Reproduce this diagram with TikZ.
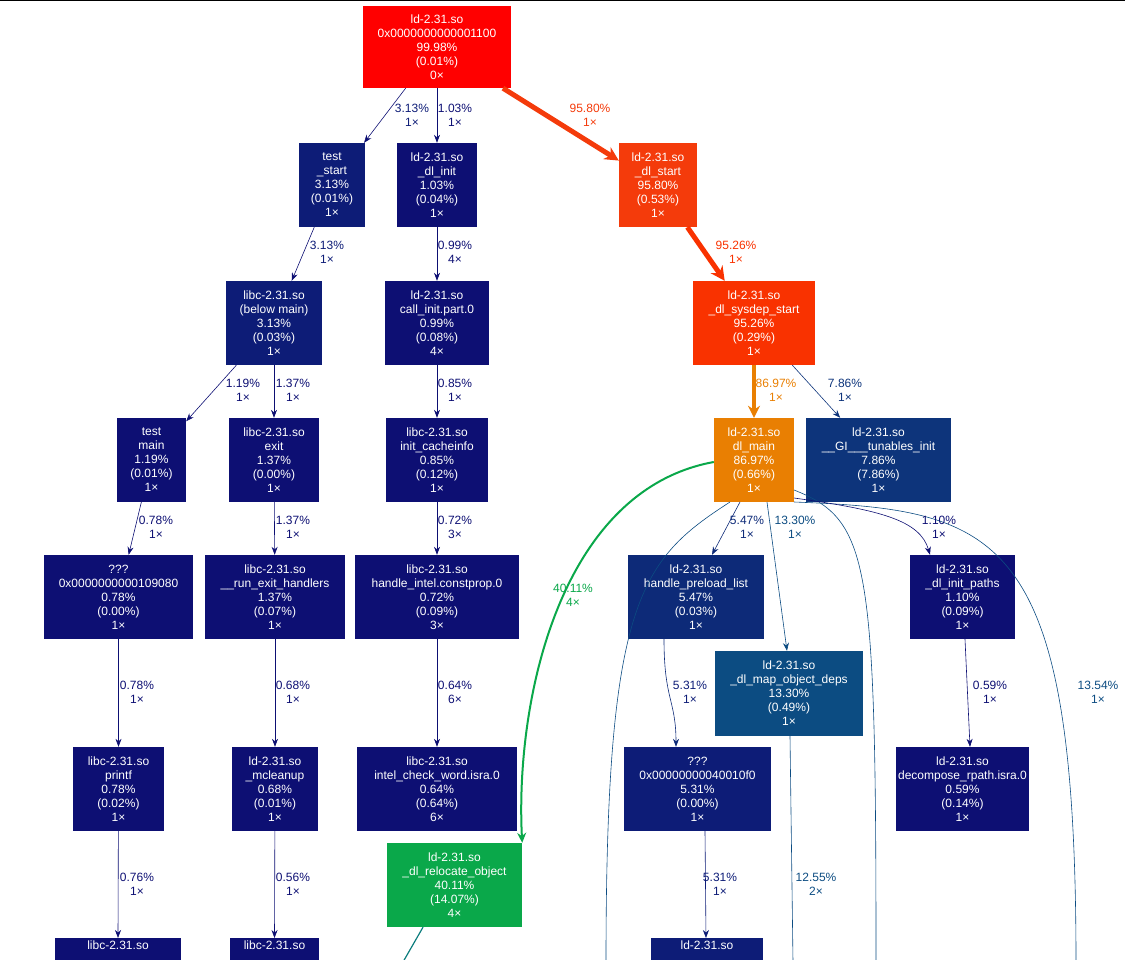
\documentclass[tikz,border=0pt]{standalone}
\usepackage{fontspec}
\setmainfont{Liberation Sans}
\usetikzlibrary{arrows.meta}
\definecolor{cRed}{HTML}{FF0000}
\definecolor{cStart}{HTML}{F43B0B}
\definecolor{cSys}{HTML}{F93200}
\definecolor{cOr}{HTML}{E97F02}
\definecolor{cDb}{HTML}{0D0F73}
\definecolor{cDb2}{HTML}{0D1C77}
\definecolor{cTun}{HTML}{0D347B}
\definecolor{cPre}{HTML}{0D2A78}
\definecolor{cMap}{HTML}{0C4C82}
\definecolor{cGr}{HTML}{0AA84A}
\definecolor{cTeal}{HTML}{0C7D7D}
\begin{document}
\begin{tikzpicture}[x=1pt,y=-1pt,
  box/.style={rectangle,inner sep=0pt,text=white,align=center,font=\fontsize{12}{14}\selectfont},
  lab/.style={align=center,font=\fontsize{12}{14}\selectfont,inner sep=0pt},
  e/.style={draw=cDb,-{Stealth[length=8pt,width=6pt]},line width=0.6pt},
  em/.style={draw=cMap,-{Stealth[length=8pt,width=6pt]},line width=0.6pt},
  eo/.style={draw=cMap,line width=0.6pt}]
\useasboundingbox (0,0) rectangle (1125,960);
\draw[line width=0.8pt] (0,0.5) -- (1125,0.5);
\newcommand\NB[7]{\node[box,fill=#6,minimum width={(#4-#2)*1pt},minimum height={(#5-#3)*1pt}] (#1) at ({(#2+#4)/2},{(#3+#5)/2}) {#7};}
\NB{root}{363}{6}{511}{88}{cRed}{ld-2.31.so\\0x0000000000001100\\99.98\%\\(0.01\%)\\0×}
\NB{tstart}{299}{143}{365}{227}{cDb2}{test\\\_start\\3.13\%\\(0.01\%)\\1×}
\NB{dlinit}{397}{143}{477}{227}{cDb}{ld-2.31.so\\\_dl\_init\\1.03\%\\(0.04\%)\\1×}
\NB{dlstart}{619}{143}{697}{227}{cStart}{ld-2.31.so\\\_dl\_start\\95.80\%\\(0.53\%)\\1×}
\NB{below}{226}{281}{322}{365}{cDb2}{libc-2.31.so\\(below main)\\3.13\%\\(0.03\%)\\1×}
\NB{callinit}{385}{281}{489}{365}{cDb}{ld-2.31.so\\call\_init.part.0\\0.99\%\\(0.08\%)\\4×}
\NB{sysdep}{693}{281}{815}{365}{cSys}{ld-2.31.so\\\_dl\_sysdep\_start\\95.26\%\\(0.29\%)\\1×}
\NB{tmain}{117}{418}{186}{502}{cDb}{test\\main\\1.19\%\\(0.01\%)\\1×}
\NB{exit}{229}{418}{319}{502}{cDb}{libc-2.31.so\\exit\\1.37\%\\(0.00\%)\\1×}
\NB{cache}{386}{418}{488}{502}{cDb}{libc-2.31.so\\init\_cacheinfo\\0.85\%\\(0.12\%)\\1×}
\NB{dlmain}{714}{418}{794}{502}{cOr}{ld-2.31.so\\dl\_main\\86.97\%\\(0.66\%)\\1×}
\NB{tun}{806}{418}{951}{502}{cTun}{ld-2.31.so\\\_\_GI\_\_\_tunables\_init\\7.86\%\\(7.86\%)\\1×}
\NB{q1}{44}{555}{193}{639}{cDb}{???\\0x0000000000109080\\0.78\%\\(0.00\%)\\1×}
\NB{reh}{205}{555}{345}{639}{cDb}{libc-2.31.so\\\_\_run\_exit\_handlers\\1.37\%\\(0.07\%)\\1×}
\NB{hi}{355}{555}{519}{639}{cDb}{libc-2.31.so\\handle\_intel.constprop.0\\0.72\%\\(0.09\%)\\3×}
\NB{hpl}{628}{555}{764}{639}{cPre}{ld-2.31.so\\handle\_preload\_list\\5.47\%\\(0.03\%)\\1×}
\NB{dip}{910}{555}{1015}{639}{cDb}{ld-2.31.so\\\_dl\_init\_paths\\1.10\%\\(0.09\%)\\1×}
\NB{mod}{715}{651}{863}{736}{cMap}{ld-2.31.so\\\_dl\_map\_object\_deps\\13.30\%\\(0.49\%)\\1×}
\NB{printf}{73}{747}{164}{831}{cDb}{libc-2.31.so\\printf\\0.78\%\\(0.02\%)\\1×}
\NB{mcl}{232}{747}{318}{831}{cDb}{ld-2.31.so\\\_mcleanup\\0.68\%\\(0.01\%)\\1×}
\NB{icw}{357}{747}{517}{831}{cDb}{libc-2.31.so\\intel\_check\_word.isra.0\\0.64\%\\(0.64\%)\\6×}
\NB{q2}{624}{747}{771}{831}{cDb2}{???\\0x00000000040010f0\\5.31\%\\(0.00\%)\\1×}
\NB{dcr}{896}{747}{1029}{831}{cDb}{ld-2.31.so\\decompose\_rpath.isra.0\\0.59\%\\(0.14\%)\\1×}
\NB{rel}{387}{843}{522}{927}{cGr}{ld-2.31.so\\\_dl\_relocate\_object\\40.11\%\\(14.07\%)\\4×}
\node[box,fill=cDb,minimum width=126pt,minimum height=44pt,anchor=north,text depth=30pt] (b1) at (118,938) {libc-2.31.so};
\node[box,fill=cDb,minimum width=89pt,minimum height=44pt,anchor=north,text depth=30pt] (b2) at (274.5,938) {libc-2.31.so};
\node[box,fill=cDb2,minimum width=112pt,minimum height=44pt,anchor=north,text depth=30pt] (b3) at (707,938) {ld-2.31.so};
\coordinate (o1) at (403,962);
\coordinate (o2) at (606,962);
\coordinate (o3) at (876,962);
\coordinate (o4) at (1076,962);
\coordinate (o5) at (793,962);
% edges
\draw[e] (root) -- (tstart);
\draw[e] (root.south-|dlinit) -- (dlinit);
\draw[draw=cStart,line width=5pt,-{Stealth[length=14pt,width=14pt]}] (root) -- (dlstart);
\draw[e] (tstart) -- (below);
\draw[e] (dlinit) -- (callinit);
\draw[draw=cSys,line width=5pt,-{Stealth[length=14pt,width=14pt]}] (dlstart) -- (sysdep);
\draw[e] (below) -- (tmain);
\draw[e] (below.south-|exit) -- (exit);
\draw[e] (callinit) -- (cache);
\draw[draw=cOr,line width=4pt,-{Stealth[length=12pt,width=12pt]}] (sysdep.south-|dlmain) -- (dlmain);
\draw[draw=cTun,-{Stealth[length=8pt,width=6pt]},line width=0.6pt] (sysdep) -- (tun);
\draw[e] (tmain) -- (q1);
\draw[e] (exit) -- (reh);
\draw[e] (cache) -- (hi);
\draw[draw=cGr,line width=2pt,-{Stealth[length=10pt,width=9pt]}] (dlmain.west|-0,462) .. controls (560,490) and (515,700) .. (rel.north east);
\draw[draw=cPre,-{Stealth[length=8pt,width=6pt]},line width=0.6pt] (740,502) -- (hpl.north-|712,0);
\draw[em] (767,502) -- (mod.north-|787,0);
\draw[eo] (730,502) .. controls (640,560) and (606,600) .. (o2);
\draw[eo] (794,490) .. controls (870,520) and (876,560) .. (o3);
\draw[eo] (794,502) .. controls (1000,510) and (1076,530) .. (o4);
\draw[e] (794,498) .. controls (880,510) and (920,520) .. (dip.north-|930,0);
\draw[e] (q1) -- (printf);
\draw[e] (reh) -- (mcl);
\draw[e] (hi) -- (icw);
\draw[draw=cPre,-{Stealth[length=8pt,width=6pt]},line width=0.6pt] (hpl.south-|664,0) .. controls (664,700) and (676,700) .. (q2.north-|676,0);
\draw[e] (dip.south-|965,0) -- (dcr.north-|970,0);
\draw[e] (printf) -- (b1.north-|118,0);
\draw[e] (mcl) -- (b2.north-|274.5,0);
\draw[draw=cDb2,-{Stealth[length=8pt,width=6pt]},line width=0.6pt] (q2.south-|705,0) -- (b3.north-|706,0);
\draw[eo] (mod.south-|790,0) -- (o5);
\draw[draw=cTeal,line width=1.2pt] (rel.south-|423,0) -- (o1);
% labels
\node[lab,text=cDb2] at (412,115) {3.13\%\\1×};
\node[lab,text=cDb] at (455,115) {1.03\%\\1×};
\node[lab,text=cStart] at (590,115) {95.80\%\\1×};
\node[lab,text=cDb2] at (327,252) {3.13\%\\1×};
\node[lab,text=cDb] at (455,252) {0.99\%\\4×};
\node[lab,text=cSys] at (736,252) {95.26\%\\1×};
\node[lab,text=cDb] at (243,390) {1.19\%\\1×};
\node[lab,text=cDb] at (293,390) {1.37\%\\1×};
\node[lab,text=cDb] at (455,390) {0.85\%\\1×};
\node[lab,text=cOr] at (776,390) {86.97\%\\1×};
\node[lab,text=cTun] at (845,390) {7.86\%\\1×};
\node[lab,text=cDb] at (156,527) {0.78\%\\1×};
\node[lab,text=cDb] at (293,527) {1.37\%\\1×};
\node[lab,text=cDb] at (455,527) {0.72\%\\3×};
\node[lab,text=cGr] at (573,595) {40.11\%\\4×};
\node[lab,text=cPre] at (747,527) {5.47\%\\1×};
\node[lab,text=cMap] at (795,527) {13.30\%\\1×};
\node[lab,text=cDb] at (939,527) {1.10\%\\1×};
\node[lab,text=cMap] at (1098,692) {13.54\%\\1×};
\node[lab,text=cDb2] at (690,692) {5.31\%\\1×};
\node[lab,text=cDb] at (990,692) {0.59\%\\1×};
\node[lab,text=cDb] at (137,692) {0.78\%\\1×};
\node[lab,text=cDb] at (293,692) {0.68\%\\1×};
\node[lab,text=cDb] at (455,692) {0.64\%\\6×};
\node[lab,text=cDb] at (137,884) {0.76\%\\1×};
\node[lab,text=cDb] at (293,884) {0.56\%\\1×};
\node[lab,text=cDb2] at (720,884) {5.31\%\\1×};
\node[lab,text=cMap] at (816,884) {12.55\%\\2×};
\end{tikzpicture}
\end{document}
